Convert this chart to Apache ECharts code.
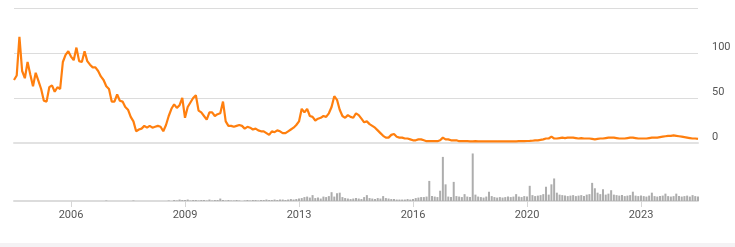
<!DOCTYPE html>
<html>
<head>
<meta charset="utf-8">
<script src="https://cdn.jsdelivr.net/npm/echarts@6/dist/echarts.min.js"></script>
<style>
html,body{margin:0;padding:0;background:#fff;}
#chart{width:735px;height:247px;}
</style>
</head>
<body>
<div id="chart"></div>
<script>
// Monthly categories, 2004-07 .. 2025-07
const startYear = 2004, startMonth = 7, monthCount = 253;
const categories = [];
for (let k = 0; k < monthCount; k++) {
  const m = startMonth - 1 + k;
  const y = startYear + Math.floor(m / 12);
  const mm = (m % 12) + 1;
  categories.push(y + '-' + (mm < 10 ? '0' + mm : mm));
}

// Dates at which year labels / ticks are shown
const tickDates = ['2006-04', '2009-10', '2013-04', '2016-10', '2020-04', '2023-10'];

// Price line
const price = [
  70,75,118,80,72,90,76,63,78,69,
  60,47,46,62,64,57,62,60,90,98,
  102,96,92,106,91,90,102,91,87,84,
  84,80,74,70,63,60,46,46,54,47,
  46,40,37,29,24,13,15,16,19,17,
  19,17,18,19,18,13,20,30,38,43,
  39,42,50,28,40,45,50,53,36,34,
  30,26,34,34,30,32,33,46,24,19,
  19,18,19,20,19,16,18,17,15,16,
  14,13,13,11,9,13,12,14,13,11,
  11,13,15,17,20,24,38,34,38,30,
  29,25,27,28,30,29,33,40,52,48,
  37,30,28,31,29,28,33,31,27,23,
  24,21,19,17,14,11,8,6,6,9,
  10,7,6,6,5,5,4,3,3,4,
  4,3,2,2,2,2,2,3,6,4,
  4,3,3,3,2,2,2.2,2,1.8,1.8,
  2,1.9,1.8,1.8,1.7,1.8,1.8,1.9,1.8,1.7,
  1.8,1.8,1.9,1.8,1.8,1.9,2,2,2,2.2,
  2.3,2.5,3,3,3.5,4,5,5,7,5,
  5,5.5,6,5.5,6,6,6,5.5,5,5.5,
  5,5,5,4.5,4,4.5,5,5,5.5,6,
  6,6,5.5,5,5,5,5.5,6,6,5.5,
  5,5,5,5,5.5,6,6,6,6.5,7,
  7.5,8,8,8.5,8,7.5,7,6.5,6,5.5,
  5,5,4.5
];

// Volume bars (relative units)
const volume = [
  0,0,0,0,0,0,0,0,0,0,
  0,0,0,0,0,0,0,0,0,0,
  0,0,0,0,0,0,0,0,0,0,
  0,0,0,0,1,0,0,0,0,0,
  0,0,0,0,1,0,0,0,0,0,
  0,0,0,0,0,0,0,1,0,2,
  1,3,2,2,3,1,2,2,1,2,
  2,1,3,1,2,2,5,2,1,2,
  1,1,2,1,0,1,2,1,2,2,
  1,2,2,3,2,2,3,2,3,3,
  2,3,4,3,4,5,6,8,9,7,
  12,6,7,5,9,8,10,18,9,16,
  17,8,6,5,4,5,6,5,4,8,
  12,6,5,4,6,5,10,6,5,4,
  4,3,3,3,3,4,3,4,6,7,
  8,8,9,41,10,9,8,21,90,34,
  9,8,39,10,9,8,14,9,8,97,
  13,9,8,7,9,19,10,8,7,8,
  7,8,9,8,9,14,9,8,10,9,
  31,12,10,11,12,14,29,13,34,46,
  17,13,12,11,10,11,12,10,11,12,
  10,13,14,37,26,17,14,24,13,15,
  22,13,12,11,12,10,11,12,19,11,
  10,11,10,9,11,17,10,9,10,11,
  15,10,9,10,15,10,9,10,11,9,
  12,10,9
];

const priceTicks = [0, 50, 100, 150];
const showTick = (idx, val) => tickDates.indexOf(categories[idx]) >= 0;

const chart = echarts.init(document.getElementById('chart'), null, {renderer: 'canvas'});
chart.setOption({
  animation: false,
  backgroundColor: '#fff',
  textStyle: {fontFamily: 'Roboto, Arial, sans-serif'},
  graphic: [{
    type: 'rect', silent: true, z: -1,
    shape: {x: 0, y: 243, width: 735, height: 4},
    style: {fill: '#f4f2f4'}
  }],
  grid: [
    {left: 14, right: 37, top: 8, height: 135},
    {left: 14, right: 37, top: 152, bottom: 46}
  ],
  xAxis: [
    {
      type: 'category', gridIndex: 0, data: categories, boundaryGap: false,
      axisLine: {show: true, lineStyle: {color: '#e2e2e2', width: 2}},
      axisTick: {show: false}, axisLabel: {show: false}, splitLine: {show: false}
    },
    {
      type: 'category', gridIndex: 1, data: categories, boundaryGap: false,
      axisLine: {show: true, lineStyle: {color: '#dcdcdc', width: 2}},
      axisTick: {show: true, interval: showTick, length: 6, lineStyle: {color: '#d6d6d6', width: 1}},
      axisLabel: {
        show: true, interval: showTick, margin: 9,
        color: '#555', fontSize: 11, fontFamily: 'Roboto, Arial, sans-serif',
        formatter: v => v.slice(0, 4)
      },
      splitLine: {show: false}
    }
  ],
  yAxis: [
    {
      type: 'value', gridIndex: 0, position: 'right',
      min: priceTicks[0], max: priceTicks[priceTicks.length - 1], interval: 50,
      axisLine: {show: false}, axisTick: {show: false},
      splitLine: {show: true, lineStyle: {color: '#dcdcdc', width: 1}},
      axisLabel: {
        margin: 14, color: '#555', fontSize: 11, verticalAlign: 'bottom',
        fontFamily: 'Roboto, Arial, sans-serif',
        formatter: v => (v === 150 ? '' : String(v))
      }
    },
    {
      type: 'value', gridIndex: 1, min: 0, max: 100, show: false,
      splitLine: {show: false}
    }
  ],
  series: [
    {
      type: 'line', xAxisIndex: 0, yAxisIndex: 0, data: price,
      showSymbol: false, symbol: 'none',
      lineStyle: {color: '#ff7f0e', width: 2.2},
      z: 3
    },
    {
      type: 'bar', xAxisIndex: 1, yAxisIndex: 1, data: volume,
      barWidth: 2, itemStyle: {color: '#adadad'}
    }
  ]
});
</script>
</body>
</html>
